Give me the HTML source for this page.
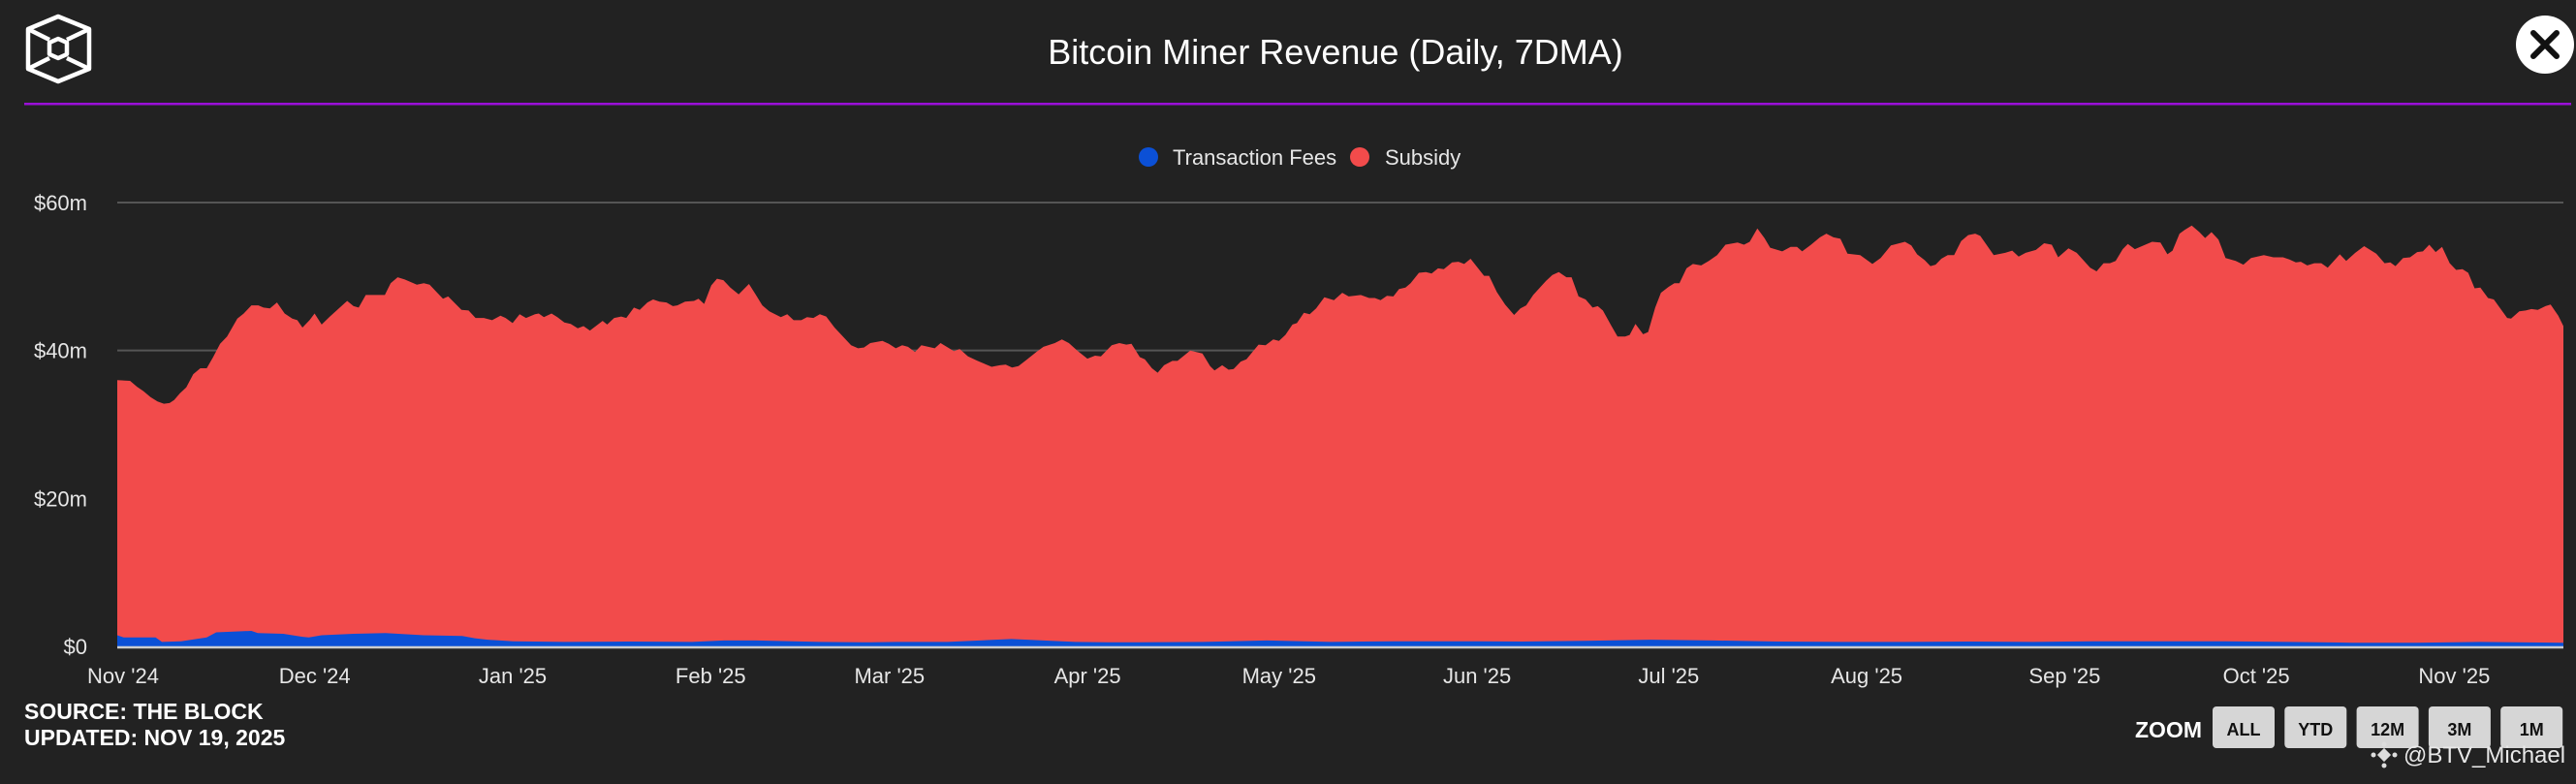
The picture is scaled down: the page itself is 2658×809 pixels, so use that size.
<!DOCTYPE html>
<html><head><meta charset="utf-8"><style>
html,body{margin:0;padding:0;background:#222222;}
body{width:2658px;height:804px;overflow:hidden;font-family:"Liberation Sans",Arial,sans-serif;}
svg text{font-family:"Liberation Sans",Arial,sans-serif;}
</style></head><body>
<svg id="chart" width="2658" height="804" viewBox="0 0 2658 804" xmlns="http://www.w3.org/2000/svg">
<rect x="0" y="0" width="2658" height="804" fill="#222222"/>
<g fill="none" stroke="#ffffff" stroke-width="4.5" stroke-linejoin="round">
<polygon points="60,17 92,30 92,71 60,84 29,71 29,30"/>
<polyline points="29,30 51,41"/><polyline points="92,30 69,41"/>
<polyline points="29,71 51,60"/><polyline points="92,71 69,60"/>
<polygon points="60,40 69,44 69,56 60,60 51,56 51,44"/>
</g>
<text x="1378" y="66" text-anchor="middle" font-size="36" fill="#ffffff">Bitcoin Miner Revenue (Daily, 7DMA)</text>
<g>
<circle cx="2626" cy="46" r="30" fill="#ffffff"/>
<path d="M2614,34 L2638,58 M2638,34 L2614,58" stroke="#111" stroke-width="6" stroke-linecap="round"/>
</g>
<rect x="25" y="106" width="2628" height="2.5" fill="#9a10d8"/>
<g>
<g>
<circle cx="1185" cy="162" r="10" fill="#0b50d6"/>
<text x="1210" y="170" font-size="22" fill="#e6e6e6">Transaction Fees</text>
</g>
<g>
<circle cx="1403" cy="162" r="10" fill="#f24b4b"/>
<text x="1429" y="170" font-size="22" fill="#e6e6e6">Subsidy</text>
</g>
</g>
<g id="grid"></g>
<g id="areas"></g>
<g id="yaxis"></g>
<g id="xaxis"></g>
<text x="25" y="742" font-size="23" font-weight="bold" fill="#ffffff">SOURCE: THE BLOCK</text>
<text x="25" y="769" font-size="23" font-weight="bold" fill="#ffffff">UPDATED: NOV 19, 2025</text>
<text x="2203" y="761" font-size="23" font-weight="bold" fill="#ffffff">ZOOM</text>
<g id="zoombtns"></g>
<g>
<g transform="translate(2460,779)" fill="#ddd"><rect x="-5" y="-5" width="10" height="10" transform="rotate(45)"/><circle cx="-11" cy="0" r="2.5"/><circle cx="11" cy="0" r="2.5"/><circle cx="0" cy="-11" r="2.5"/><circle cx="0" cy="11" r="2.5"/></g>
<text x="2480" y="787" font-size="24" fill="#e8e8e8" font-family="DejaVu Sans, sans-serif">@BTV_Michael</text>
</g>
</svg>
<script>
// ---- data (days since Nov 1, 2024; values in $m) ----
var totalDays = [0,2,3.1,4.1,5.2,6.3,7.3,8.2,8.9,9.8,10.8,11.9,13,14,15,16.1,17.2,18.8,19.8,21,22.1,22.9,23.9,25,26.2,27.4,28.2,29,30.1,30.9,32,33.3,36,37,37.8,38.9,41.9,42.8,43.9,45,46.9,48,48.9,50.1,51,51.8,53.9,55,56.1,57.4,58.7,60,60.8,61.9,63,64,65.4,66,66.8,68,68.9,70,71,72.1,73,74,76,76.7,77.8,78.9,79.7,80.9,81.8,83,83.9,84.9,86,87,87.7,88.9,90.3,91,91.9,93,93.9,94.9,96,97.3,98.9,100,101,102.1,103.9,104.9,105.9,107.1,108,109,110,111,112.3,114.9,116,116.9,117.9,119.8,120.8,121.9,122.9,123.8,124.9,125.9,128,128.9,131,131.9,133.2,134.7,136.9,138.2,139.1,140.1,141.1,142.3,143.9,145,146.8,147.9,149,150.3,151.9,153.1,154,155.7,156.9,158,158.8,160.1,160.9,162,162.9,163.9,165.2,166,168,169.9,171.1,171.8,173,174,174.8,175.9,176.8,178.7,179.8,181,181.9,182.9,184,184.7,185.8,186.7,187.7,189,190.5,191.8,192.8,194.7,196,196.9,197.8,198.8,199.8,200.7,201.7,202.5,203.8,204.9,205.8,206.8,207.7,209,210,210.9,211.9,212.8,214,214.8,216,217.3,218.7,219.7,220.6,221.7,223.7,224.7,225.7,226.9,227.7,228.8,229.9,231,231.8,232.6,233.9,234.9,236.1,236.8,237.7,238.9,239.7,240.8,241.7,242.9,243.8,244.6,245.7,246.7,248,249.2,250.5,251.8,253.7,254.7,255.6,256.8,257.9,258.8,260.7,262,263,263.8,265.2,266.6,267.6,268.7,269.8,270.9,272.9,274.8,276.1,277.7,278.6,279.9,280.9,281.8,283,283.9,284.7,285.6,286.6,287.6,288.7,289.8,290.9,291.7,293.8,295.6,296.7,297.7,298.8,300.4,301.7,302.9,303.9,305.5,306.8,308.9,309.9,311,312,312.9,314,314.8,315.9,317,318.6,319.9,321,321.8,322.9,323.7,324.8,326,326.9,327.9,329,330.1,331.7,332.9,334.1,336.1,337.6,339.1,340.1,341.1,341.9,342.9,344,345.1,346.1,348,349,350.4,351.8,353.7,355,355.9,356.7,357.9,359,360.1,361,362,363,364,365.2,366.2,367.2,368.1,369.1,370,371.2,372.1,374.2,374.8,376.1,377.1,378,379,380.2,381,382.2,383];
var totalValues = [36,35.9,35.1,34.5,33.7,33.1,32.8,32.9,33.3,34.2,35,36.8,37.6,37.6,39.1,40.9,41.9,44.3,45,46.1,46.1,45.8,45.7,46.5,45,44.3,44.1,43.1,44.1,45,43.5,44.6,46.7,46,45.8,47.5,47.5,49.1,49.9,49.6,48.9,49.1,48.9,47.8,47,47.3,45.5,45.4,44.4,44.4,44.1,44.7,44.4,43.7,44.9,44.4,44.9,45,44.5,45,44.5,43.8,43.6,43,43.3,42.7,44,43.5,44.4,44.6,44.4,45.8,45.5,46.5,46.9,46.6,46.5,46,46.1,46.6,46.7,47,46.3,48.8,49.7,49.5,48.5,47.6,49,47.5,46.1,45.3,44.5,44.9,44.1,44.1,44.5,44.4,44.9,44.6,43.1,40.7,40.3,40.4,41,41.3,40.9,40.3,40.7,40.5,39.8,40.7,40.3,41,39.9,40.2,39.2,38.6,37.8,38,38.1,37.7,37.9,38.7,39.8,40.5,41,41.5,41,40,38.9,39.3,39.2,40.7,41,40.8,40.9,39.1,38.8,37.6,37,38,38.6,38.6,40,39.6,37.9,37.3,38,37.4,37.5,38.5,38.8,40.8,40.7,41.5,41.3,42.1,43.5,43.7,45.1,44.9,45.7,47.2,46.8,47.8,47.3,47.5,47.1,47.1,46.8,47.4,47.3,48.3,48.5,49.1,50.5,50.6,50.4,51.1,51,51.9,52,51.7,52.4,51.4,50.1,50.1,47.9,46.2,44.8,45.7,46.1,47.5,49.4,50.2,50.6,49.9,49.9,47.3,46.9,45.8,46,45.4,43.4,41.9,41.9,42.1,43.6,42.2,42.5,45.8,47.8,48.6,49.1,49.1,51.1,51.7,51.5,52.1,52.9,54.3,54.6,54.3,54.7,56.5,55.2,53.9,53.4,54,54,53.4,54.3,55.3,55.8,55.3,55.1,53.1,52.9,51.7,52.5,54.2,54.4,54.7,54.2,53,52.2,51.4,51.6,52.4,52.9,52.9,54.8,55.6,55.8,55.5,52.9,53.2,53.5,52.7,53.2,53.6,54.5,54.3,52.6,53.8,53.2,51.2,50.7,51.8,51.8,52.1,53.7,54.4,53.7,54.1,54.7,54.6,53,53.5,55.8,56.3,56.9,56,55.2,56,55,52.5,52.1,51.6,52.5,52.9,52.6,52.6,52.3,51.9,52,51.5,51.8,51.8,51.2,53,52.1,53.2,54.1,53.1,51.8,51.9,51.4,52.5,52.6,53.3,53.4,54.3,53.3,54,51.8,50.9,51,50.5,48.4,48.5,47.1,46.9,44.4,44.3,45.3,45.4,45.6,45.5,46,46.2,44.7,43.3];
var feeDays = [0,1,6,7,10,14,15.5,21,22,26,29,30,32,37,42,48,54,56,58,62,70,80,90,95,100,110,118,122,130,140,150,155,160,170,180,190,195,200,210,220,230,240,250,260,270,280,290,300,310,320,330,340,350,360,370,383];
var feeValues = [1.5,1.2,1.2,0.6,0.7,1.2,1.9,2.1,1.8,1.7,1.3,1.2,1.5,1.7,1.8,1.5,1.4,1.1,0.9,0.7,0.6,0.65,0.6,0.8,0.8,0.6,0.55,0.6,0.6,1.0,0.6,0.55,0.55,0.6,0.8,0.6,0.65,0.7,0.7,0.65,0.75,0.9,0.8,0.65,0.6,0.6,0.65,0.6,0.7,0.7,0.7,0.6,0.5,0.5,0.6,0.5,0.5,0.4];
var yTicks = [0,20,40,60];
var yTickLabels = ["$0","$20m","$40m","$60m"];
var monthDays = [0,30,61,92,120,151,181,212,242,273,304,334,365];
var monthLabels = ["Nov '24","Dec '24","Jan '25","Feb '25","Mar '25","Apr '25","May '25","Jun '25","Jul '25","Aug '25","Sep '25","Oct '25","Nov '25"];
var zoomLabels = ["ALL","YTD","12M","3M","1M"];

var NS="http://www.w3.org/2000/svg";
var X0=121,X1=2645,Y0=667,Y60=209,DMAX=383,VMAX=60;
function xs(d){return X0+(X1-X0)*d/DMAX;}
function ys(v){return Y0-(Y0-Y60)*v/VMAX;}
function mk(tag,attrs,parent){var e=document.createElementNS(NS,tag);for(var k in attrs)e.setAttribute(k,attrs[k]);parent.appendChild(e);return e;}
function feeAt(d){for(var i=1;i<feeDays.length;i++){if(d<=feeDays[i]){var t=(d-feeDays[i-1])/(feeDays[i]-feeDays[i-1]);return feeValues[i-1]+t*(feeValues[i]-feeValues[i-1]);}}return feeValues[feeValues.length-1];}

var grid=document.getElementById('grid');
yTicks.forEach(function(v,i){
  if(v===0)return;
  var l=mk('line',{x1:X0,x2:X1,y1:ys(v),y2:ys(v),stroke:'#555555','stroke-width':2},grid);
  
  
});

var areas=document.getElementById('areas');
// subsidy (stacked on top of fees) : top contour is total
var p='M'+xs(totalDays[0])+','+Y0;
for(var i=0;i<totalDays.length;i++){p+=' L'+xs(totalDays[i]).toFixed(1)+','+ys(totalValues[i]).toFixed(1);}
p+=' L'+xs(totalDays[totalDays.length-1])+','+Y0+' Z';
var sub=mk('path',{d:p,fill:'#f24b4b'},areas);


var fp='M'+xs(feeDays[0])+','+Y0;
for(var j=0;j<feeDays.length;j++){fp+=' L'+xs(feeDays[j]).toFixed(1)+','+ys(feeValues[j]).toFixed(1);}
fp+=' L'+xs(feeDays[feeDays.length-1])+','+Y0+' Z';
var fee=mk('path',{d:fp,fill:'#0b50d6'},areas);


var base=mk('line',{x1:X0,x2:X1,y1:Y0+1,y2:Y0+1,stroke:'#cccccc','stroke-width':2.5},areas);



var ya=document.getElementById('yaxis');
yTicks.forEach(function(v,i){
  var t=mk('text',{x:90,y:ys(v)+8,'text-anchor':'end','font-size':22,fill:'#e6e6e6'},ya);
  t.textContent=yTickLabels[i];
  
  
});
var xa=document.getElementById('xaxis');
monthDays.forEach(function(d,i){
  var t=mk('text',{x:xs(d)+6,y:705,'text-anchor':'middle','font-size':22,fill:'#e6e6e6'},xa);
  t.textContent=monthLabels[i];
  
  
});
var zb=document.getElementById('zoombtns');
zoomLabels.forEach(function(lbl,i){
  var g=mk('g',{},zb);
  
  
  var bx=2283+i*74.3;
  mk('rect',{x:bx,y:729,width:64,height:43,rx:4,fill:'#d6d6d6'},g);
  var t=mk('text',{x:bx+32,y:759,'text-anchor':'middle','font-size':18,'font-weight':'bold',fill:'#111'},g);
  t.textContent=lbl;
});
</script>
</body></html>
